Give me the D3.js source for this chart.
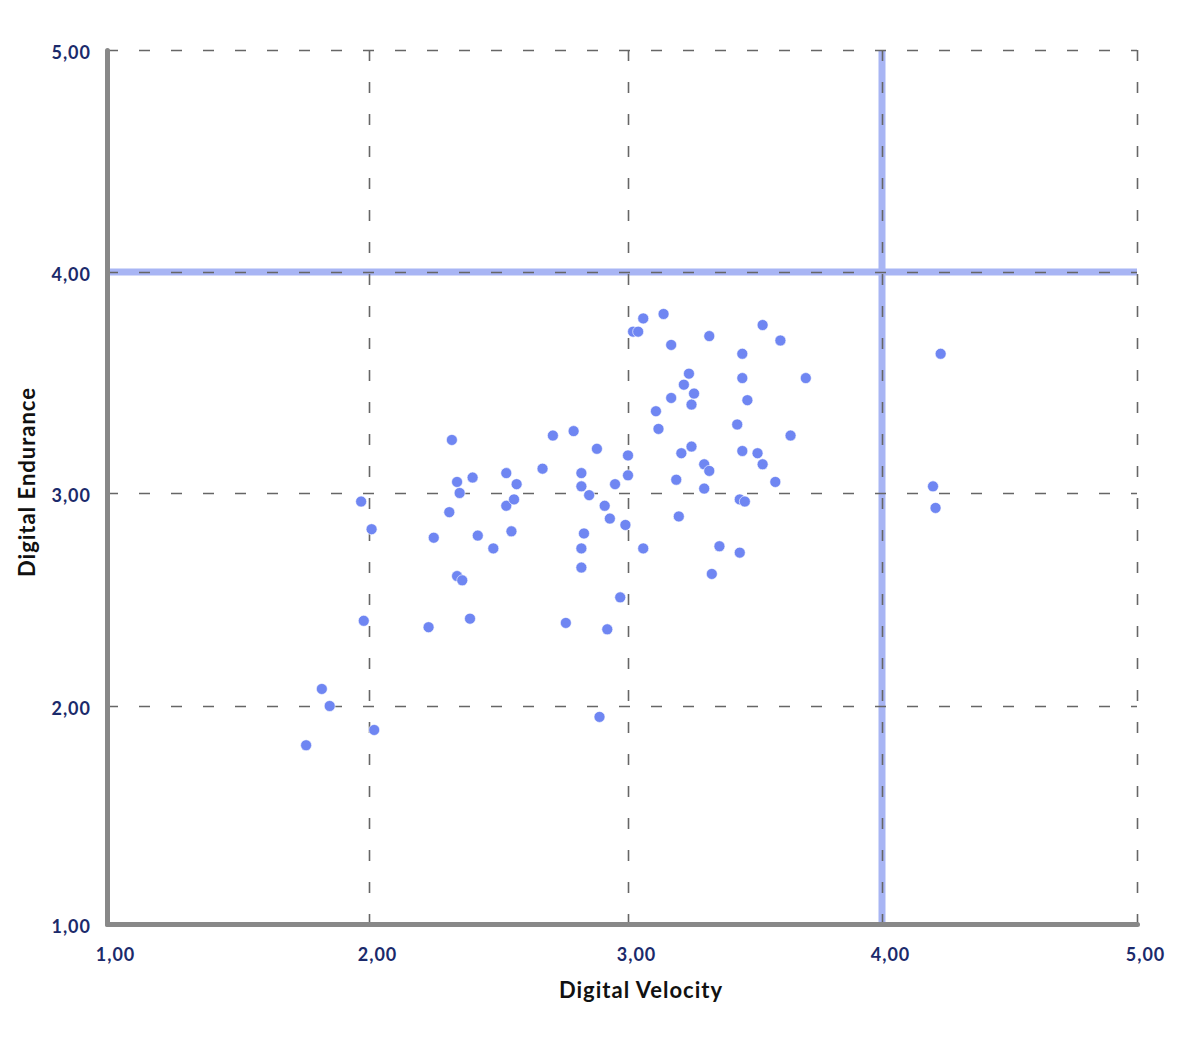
<!DOCTYPE html>
<html>
<head>
<meta charset="utf-8">
<script src="https://cdn.jsdelivr.net/npm/d3@7"></script>
<style>
  html, body { margin: 0; padding: 0; background: #fff; }
  svg { display: block; }
  .tick text { font-family: Lato, "Open Sans", sans-serif; font-weight: 700; font-size: 18px; fill: #1b2a6b; letter-spacing: 1px; }
  .title { font-family: Lato, "Open Sans", sans-serif; font-weight: 700; font-size: 22px; fill: #111; letter-spacing: 1px; }
</style>
</head>
<body>
<div id="chart"></div>
<script>
// Digital Velocity (x) vs Digital Endurance (y), one point per respondent
const velocity = [
  1.76, 1.82, 1.85, 2.02, 1.97, 1.98, 2.01, 2.23, 2.25, 2.31,
  2.32, 2.34, 2.35, 2.34, 2.36, 2.40, 2.39, 2.42, 2.48, 2.53,
  2.53, 2.55, 2.56, 2.57, 2.67, 2.71, 2.76, 2.79, 2.82, 2.82,
  2.82, 2.82, 2.83, 2.85, 2.88, 2.89, 2.91, 2.92, 2.93, 2.95,
  2.97, 2.99, 3.00, 3.00, 3.02, 3.04, 3.06, 3.06, 3.11, 3.12,
  3.14, 3.17, 3.17, 3.19, 3.20, 3.21, 3.22, 3.24, 3.25, 3.26,
  3.25, 3.30, 3.30, 3.32, 3.32, 3.33, 3.36, 3.43, 3.44, 3.44,
  3.45, 3.45, 3.45, 3.46, 3.47, 3.51, 3.53, 3.53, 3.58, 3.60,
  3.64, 3.70, 4.20, 4.21, 4.23
];
const endurance = [
  1.82, 2.08, 2.00, 1.89, 2.96, 2.40, 2.83, 2.37, 2.79, 2.91,
  3.24, 3.05, 3.00, 2.61, 2.59, 3.07, 2.41, 2.80, 2.74, 2.94,
  3.09, 2.82, 2.97, 3.04, 3.11, 3.26, 2.39, 3.28, 3.09, 3.03,
  2.74, 2.65, 2.81, 2.99, 3.20, 1.95, 2.94, 2.36, 2.88, 3.04,
  2.51, 2.85, 3.08, 3.17, 3.73, 3.73, 3.79, 2.74, 3.37, 3.29,
  3.81, 3.43, 3.67, 3.06, 2.89, 3.18, 3.49, 3.54, 3.40, 3.45,
  3.21, 3.13, 3.02, 3.71, 3.10, 2.62, 2.75, 3.31, 2.72, 2.97,
  3.63, 3.52, 3.19, 2.96, 3.42, 3.18, 3.76, 3.13, 3.05, 3.69,
  3.26, 3.52, 3.03, 2.93, 3.63
];
const tickValues = [1, 2, 3, 4, 5];
const refX = [4];   // vertical reference line
const refY = [4];   // horizontal reference line

const width = 1200, height = 1046;
const points = velocity.map((v, i) => ({ x: v, y: endurance[i] }));

const svg = d3.select("#chart").append("svg")
  .attr("width", width)
  .attr("height", height);

const x = d3.scaleLinear().domain([1, 2, 3, 4, 5]).range([107, 369, 628, 882, 1137]);
const y = d3.scaleLinear().domain([1, 2, 3, 4, 5]).range([924, 706, 493, 272, 50]);

const fmt = d3.formatLocale({ decimal: ",", thousands: ".", grouping: [3], currency: ["", ""] }).format(".2f");

// reference lines
svg.selectAll(".refx").data(refX).join("line")
  .attr("x1", d => x(d)).attr("x2", d => x(d))
  .attr("y1", y(5)).attr("y2", y(1))
  .attr("stroke", "#a8b5f4").attr("stroke-width", 7);
svg.selectAll(".refy").data(refY).join("line")
  .attr("x1", x(1)).attr("x2", x(5))
  .attr("y1", d => y(d)).attr("y2", d => y(d))
  .attr("stroke", "#a8b5f4").attr("stroke-width", 7);

// dashed grid
const gridX = svg.append("g")
  .attr("transform", `translate(0,${y(5)})`)
  .call(d3.axisTop(x).tickValues(tickValues.slice(1)).tickSize(-(y(1) - y(5))).tickFormat(""));
const gridY = svg.append("g")
  .attr("transform", `translate(${x(1)},0)`)
  .call(d3.axisLeft(y).tickValues(tickValues.slice(1)).tickSize(-(x(5) - x(1))).tickFormat(""));
[gridX, gridY].forEach(g => {
  g.select(".domain").remove();
  g.selectAll(".tick line")
    .attr("stroke", "#666")
    .attr("stroke-width", 1.6)
    .attr("stroke-dasharray", "11,21");
});

// axes
const xAxis = svg.append("g")
  .attr("transform", `translate(0,${y(1)})`)
  .call(d3.axisBottom(x).tickValues(tickValues).tickSize(0).tickSizeOuter(0).tickPadding(24).tickFormat(fmt));
const yAxis = svg.append("g")
  .attr("transform", `translate(${x(1)},0)`)
  .call(d3.axisLeft(y).tickValues(tickValues).tickSize(0).tickSizeOuter(0).tickPadding(16).tickFormat(fmt));
[xAxis, yAxis].forEach(g => {
  g.select(".domain")
    .attr("stroke", "#888")
    .attr("stroke-width", 5)
    .attr("stroke-linecap", "round");
});
xAxis.selectAll(".tick text").attr("dx", 8);
yAxis.selectAll(".tick text").attr("dy", "0.45em");

// points
svg.append("g").selectAll("circle").data(points).join("circle")
  .attr("cx", d => x(d.x))
  .attr("cy", d => y(d.y))
  .attr("r", 5.5)
  .attr("fill", "#6f86f2")
  .attr("stroke", "#fff")
  .attr("stroke-width", 0.6);

// axis titles
svg.append("text").attr("class", "title")
  .attr("x", 641).attr("y", 998)
  .attr("text-anchor", "middle")
  .text("Digital Velocity");
svg.append("text").attr("class", "title")
  .attr("transform", "translate(35,482) rotate(-90)")
  .attr("text-anchor", "middle")
  .text("Digital Endurance");
</script>
</body>
</html>
